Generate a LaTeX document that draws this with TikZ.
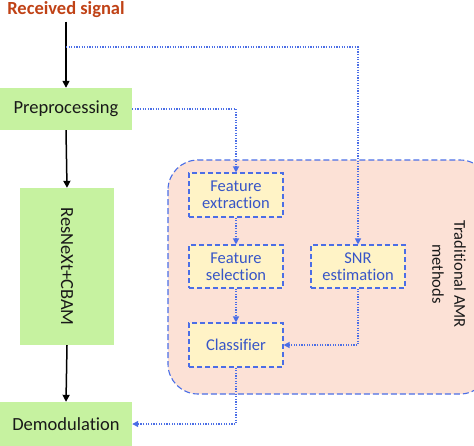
\documentclass[tikz,border=0pt]{standalone}
\usepackage{fontspec}
\setmainfont{Carlito}[Ligatures=NoCommon]
\usetikzlibrary{arrows.meta}
\definecolor{gfill}{RGB}{198,242,160}
\definecolor{pfill}{RGB}{252,225,214}
\definecolor{yfill}{RGB}{255,243,198}
\definecolor{bline}{RGB}{75,110,230}
\definecolor{btext}{RGB}{55,85,200}
\definecolor{rtext}{RGB}{192,66,22}
\tikzset{
  greenbox/.style={fill=gfill, draw=none, inner sep=0pt, font=\fontsize{18.5}{20}\selectfont, text=black!90},
  ybox/.style={fill=yfill, draw=bline, dash pattern=on 5pt off 3pt, line width=1.1pt, inner sep=0pt, align=center, minimum width=94pt, minimum height=44pt, font=\fontsize{16.5}{17}\selectfont, text=btext},
  blk/.style={-{Triangle[length=7pt,width=7pt]}, line width=1.5pt, black},
  bl/.style={-{Triangle[length=6pt,width=6pt]}, line width=1.2pt, bline, dash pattern=on 1.2pt off 1.4pt},
}
\begin{document}
\begin{tikzpicture}[x=1pt,y=-1pt]
\useasboundingbox (0,0) rectangle (474,445);
\draw[fill=pfill, draw=bline, dash pattern=on 6pt off 3pt, line width=1.1pt, rounded corners=30pt] (168,160) rectangle (490,394);
\node[font=\bfseries\fontsize{18.5}{20}\selectfont, text=rtext] (rs) at (66,10) {Received signal};
\node[greenbox, minimum width=132pt, minimum height=42pt] (pre) at (66,109) {Preprocessing};
\node[greenbox, minimum width=94pt, minimum height=157pt] (res) at (67,266.5) {};
\node[font=\fontsize{18.5}{20}\selectfont, text=black!90, rotate=-90] (restxt) at (67,266.5) {ResNeXt+CBAM};
\node[greenbox, minimum width=132pt, minimum height=44pt] (dem) at (66,424) {Demodulation};
\node[ybox] (fe) at (236,195) {Feature\\extraction};
\node[ybox, minimum height=43pt] (fs) at (236,266.5) {Feature\\selection};
\node[ybox, minimum height=43pt] (snr) at (358,266.5) {SNR\\estimation};
\node[ybox] (cl) at (236,345) {Classifier};
\node[font=\fontsize{16.5}{22}\selectfont, text=black!90, rotate=-90, align=center] (trad) at (449,274) {Traditional AMR\\methods};
\coordinate (tap) at (66,47);
\draw[blk] (rs.south) -- (pre.north);
\draw[blk] (pre.south) -- (res.north);
\draw[blk] (res.south) -- (dem.north);
\draw[bl] (tap) -| (snr.north);
\draw[bl] (pre.east) -| (fe.north);
\draw[bl] (fe.south) -- (fs.north);
\draw[bl] (fs.south) -- (cl.north);
\draw[bl] (snr.south) |- (cl.east);
\draw[bl] (cl.south) |- (dem.east);
\end{tikzpicture}
\end{document}
